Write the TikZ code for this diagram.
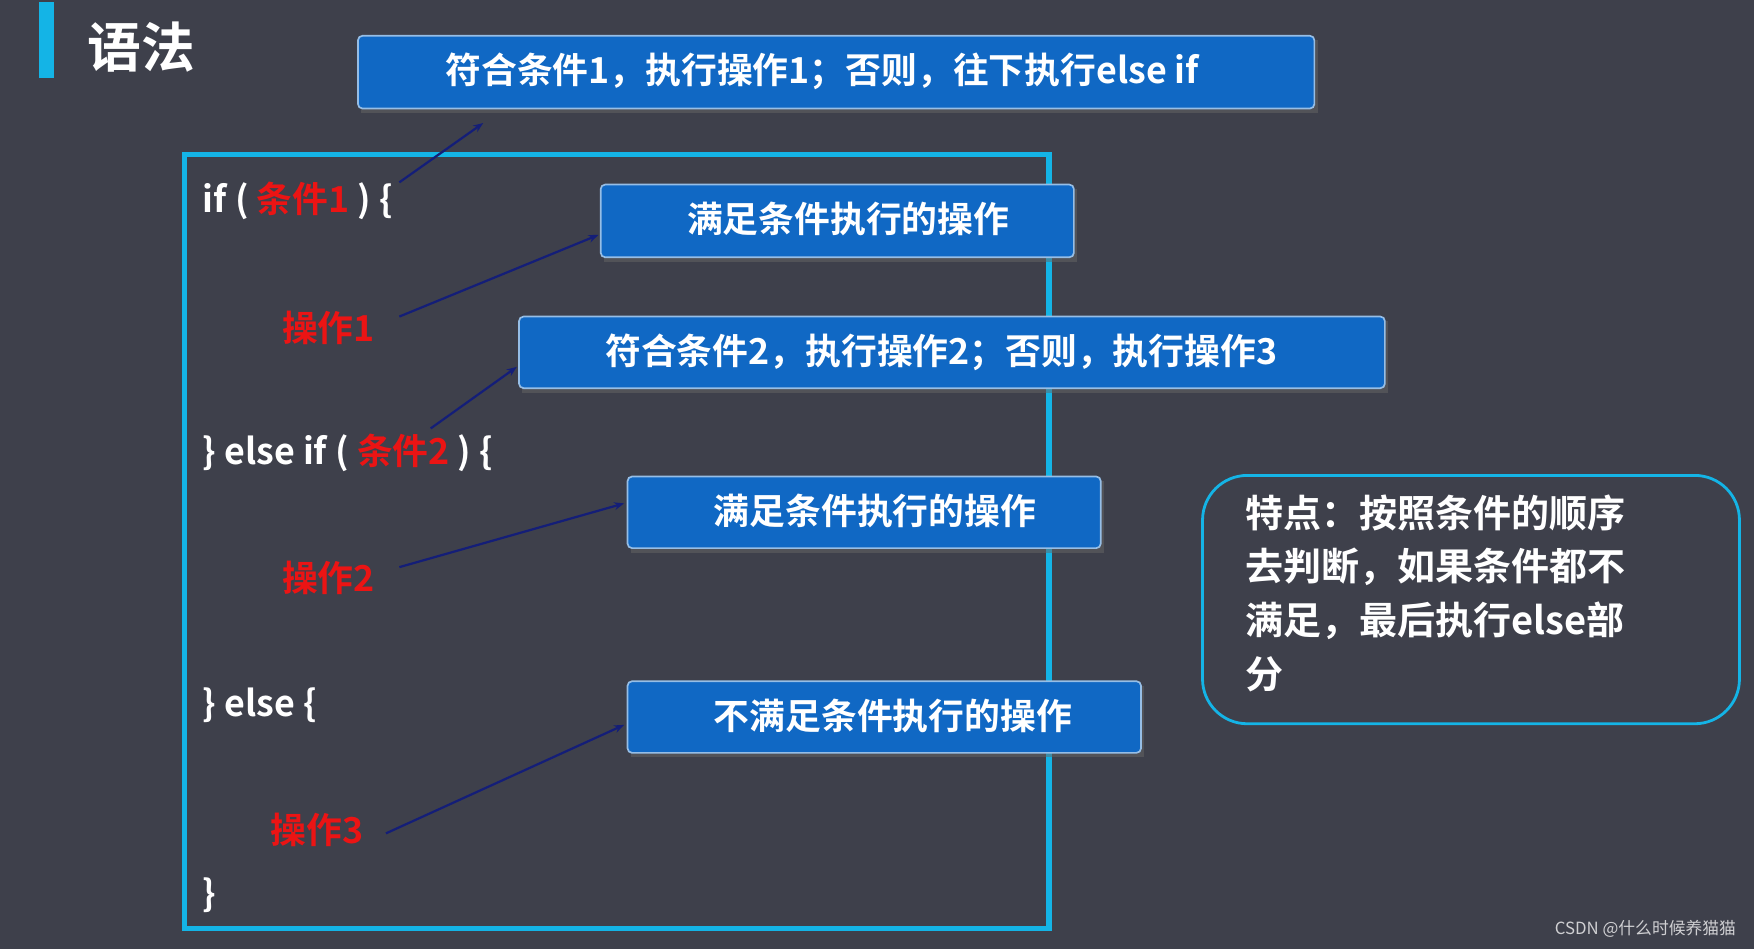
\documentclass[tikz,border=0pt]{standalone}
\usepackage{fontspec}
\setmainfont{Noto Sans CJK SC}[BoldFont={* Bold}]
\usetikzlibrary{arrows.meta}
\definecolor{bg}{RGB}{62,64,75}
\definecolor{cy}{RGB}{20,180,230}
\definecolor{bbox}{RGB}{16,104,196}
\definecolor{bedge}{RGB}{150,190,230}
\definecolor{navy}{RGB}{20,30,120}
\definecolor{rd}{RGB}{235,20,20}
\tikzset{
  bluebox/.style={draw=bedge,line width=1.5pt,fill=bbox,rounded corners=4pt,drop shadow/.style={}},
  boxtxt/.style={anchor=west,text=white,font=\bfseries\fontsize{32}{38}\selectfont,inner sep=0pt},
  code/.style={anchor=west,text=white,font=\bfseries\fontsize{32}{38}\selectfont,inner sep=0pt},
  arr/.style={navy,line width=2pt,-{Stealth[length=9pt,width=7pt]}}
}
\begin{document}
\begin{tikzpicture}[x=1pt,y=-1pt]
\fill[bg] (0,0) rectangle (1568,848);
\useasboundingbox (0,0) rectangle (1568,848);
\fill[cy] (35,2) rectangle (48,70);
\node[code,font=\bfseries\fontsize{48}{56}\selectfont] (title) at (78,42) {语法};
% frame
\draw[cy,line width=5pt] (165,138) rectangle (938,830);
% boxes
\foreach \n/\a/\b/\c/\d in {b1/320/32/1175/97,b2/537/165/960/230,b3/464/283/1238/347,b4/561/426/984/490,b5/561/609/1020/673}{
  \fill[black!60,opacity=.5] (\a+3,\b+4) rectangle (\c+3,\d+4);
  \draw[bluebox] (\a,\b) rectangle (\c,\d);
  \coordinate (\n) at (\a,\d);
}
\node[boxtxt] (t1) at (398,64) {符合条件1，执行操作1；否则，往下执行else if};
\node[boxtxt] (t2) at (614,196) {满足条件执行的操作};
\node[boxtxt] (t3) at (541,315) {符合条件2，执行操作2；否则，执行操作3};
\node[boxtxt] (t4) at (638,457) {满足条件执行的操作};
\node[boxtxt] (t5) at (638,640) {不满足条件执行的操作};
% code
\node[code] (c1) at (181,180) {if ( \textcolor{rd}{条件1} ) \{};
\node[code,text=rd] (o1) at (252,293) {操作1};
\node[code] (c2) at (181,405) {\} else if ( \textcolor{rd}{条件2} ) \{};
\node[code,text=rd] (o2) at (252,517) {操作2};
\node[code] (c3) at (181,630) {\} else \{};
\node[code,text=rd] (o3) at (242,742) {操作3};
\node[code] (c4) at (181,800) {\}};
% arrows
\coordinate (a1) at (357,163); \coordinate (e1) at (432,110);
\coordinate (a2) at (357,283); \coordinate (e2) at (535,210);
\coordinate (a3) at (385,383); \coordinate (e3) at (462,328);
\coordinate (a4) at (357,507); \coordinate (e4) at (558,450);
\coordinate (a5) at (345,745); \coordinate (e5) at (558,648);
\draw[arr] (a1) -- (e1);
\draw[arr] (a2) -- (e2);
\draw[arr] (a3) -- (e3);
\draw[arr] (a4) -- (e4);
\draw[arr] (a5) -- (e5);
% feature box
\draw[cy,line width=2.5pt,rounded corners=40pt] (1075,425) rectangle (1555,647);
\node[anchor=north west,text=white,align=left,inner sep=0pt,font=\bfseries\fontsize{34}{48}\selectfont] (feat) at (1113,442)
 {特点：按照条件的顺序\\去判断，如果条件都不\\满足，最后执行else部\\分};
\node[anchor=east,text=white!75!bg,inner sep=0pt,font=\fontsize{15}{18}\selectfont] (wm) at (1552,830) {CSDN @什么时候养猫猫};
\end{tikzpicture}
\end{document}
